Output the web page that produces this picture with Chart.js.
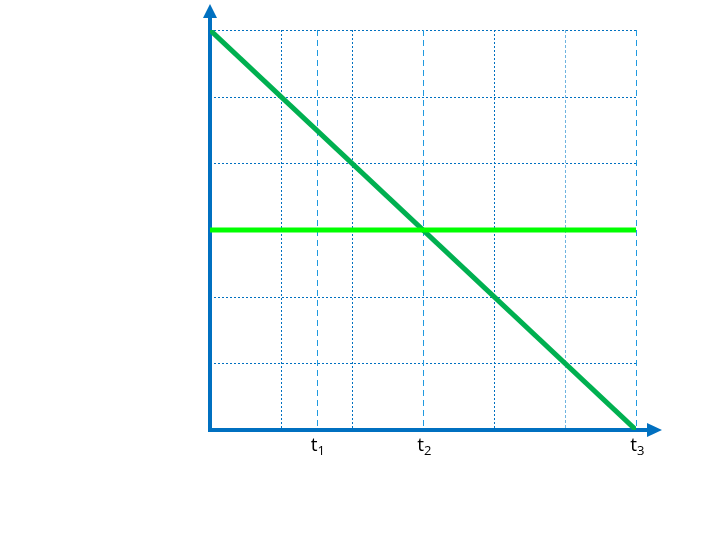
<!DOCTYPE html>
<html>
<head>
<meta charset="utf-8">
<script src="https://cdn.jsdelivr.net/npm/chart.js@4"></script>
<style>
  body { margin: 0; background: #fff; }
  canvas { display: block; }
</style>
</head>
<body>
<canvas id="myChart" width="720" height="540"></canvas>
<script>
// values (axis units: 0..6 both ways)
const xMax = 6
const yMax = 6
const dottedX = [1, 2, 4]
const lightX = [5]
const dashedX = [1.5, 3, 6]
const gridY = [1, 2, 4, 5, 6]
const tickLabels = ['1', '2', '3']
const fallingLine = [{x: 0, y: 6}, {x: 6, y: 0}]
const levelLine = [{x: 0, y: 3}, {x: 6, y: 3}]

const axisBlue = '#0070c0'

const framePlugin = {
    id: 'frame',
    beforeDatasetsDraw(chart) {
        const ctx = chart.ctx
        const xs = chart.scales.x
        const ys = chart.scales.y
        const top = ys.getPixelForValue(yMax)
        const bottom = ys.getPixelForValue(0)
        const left = xs.getPixelForValue(0)
        const right = xs.getPixelForValue(xMax)
        ctx.save()
        ctx.lineWidth = 1

        // horizontal dotted grid
        ctx.strokeStyle = axisBlue
        ctx.setLineDash([2, 2])
        gridY.forEach(v => {
            const y = Math.round(ys.getPixelForValue(v)) + 0.5
            ctx.beginPath()
            ctx.moveTo(left, y)
            ctx.lineTo(right, y)
            ctx.stroke()
        })
        // vertical dotted grid
        dottedX.forEach(v => {
            const x = Math.round(xs.getPixelForValue(v)) + 0.5
            ctx.beginPath()
            ctx.moveTo(x, top)
            ctx.lineTo(x, bottom)
            ctx.stroke()
        })
        ctx.strokeStyle = '#6fb4e0'
        ctx.setLineDash([3, 2])
        lightX.forEach(v => {
            const x = Math.round(xs.getPixelForValue(v)) + 0.5
            ctx.beginPath()
            ctx.moveTo(x, top)
            ctx.lineTo(x, bottom)
            ctx.stroke()
        })
        // dashed lines at t1, t2, t3
        ctx.strokeStyle = '#1f9ae0'
        ctx.setLineDash([6, 4])
        dashedX.forEach(v => {
            const x = Math.round(xs.getPixelForValue(v)) + 0.5
            ctx.beginPath()
            ctx.moveTo(x, top)
            ctx.lineTo(x, bottom)
            ctx.stroke()
        })
        ctx.setLineDash([])

        // axes with arrows
        ctx.strokeStyle = axisBlue
        ctx.fillStyle = axisBlue
        ctx.lineWidth = 4
        ctx.beginPath()
        ctx.moveTo(left, bottom + 2)
        ctx.lineTo(left, 16)
        ctx.moveTo(left - 2, bottom)
        ctx.lineTo(650, bottom)
        ctx.stroke()
        ctx.beginPath()
        ctx.moveTo(left, 4)
        ctx.lineTo(left - 7, 18)
        ctx.lineTo(left + 7, 18)
        ctx.closePath()
        ctx.fill()
        ctx.beginPath()
        ctx.moveTo(662, bottom)
        ctx.lineTo(647, bottom - 7)
        ctx.lineTo(647, bottom + 7)
        ctx.closePath()
        ctx.fill()

        // t labels with subscripts
        ctx.fillStyle = '#000'
        ctx.textBaseline = 'alphabetic'
        dashedX.forEach((v, i) => {
            const x = xs.getPixelForValue(v)
            ctx.font = '19px "Open Sans"'
            ctx.textAlign = 'right'
            ctx.fillText('t', x + 1, bottom + 21)
            ctx.font = '13px "Open Sans"'
            ctx.textAlign = 'left'
            ctx.fillText(tickLabels[i], x + 1, bottom + 25)
        })
        ctx.restore()
    }
}

new Chart(document.getElementById('myChart'), {
    type: 'scatter',
    data: {
        datasets: [
            {
                data: levelLine,
                showLine: true,
                borderColor: '#00ff00',
                borderWidth: 5,
                pointRadius: 0,
                borderCapStyle: 'butt'
            },
            {
                data: fallingLine,
                showLine: true,
                borderColor: '#00b050',
                borderWidth: 5,
                pointRadius: 0
            }
        ]
    },
    options: {
        responsive: false,
        animation: false,
        events: [],
        layout: {
            padding: {left: 210, top: 30, right: 84, bottom: 110}
        },
        scales: {
            x: {type: 'linear', min: 0, max: xMax, display: false},
            y: {type: 'linear', min: 0, max: yMax, display: false}
        },
        plugins: {
            legend: {display: false},
            tooltip: {enabled: false}
        }
    },
    plugins: [framePlugin]
})
</script>
</body>
</html>
